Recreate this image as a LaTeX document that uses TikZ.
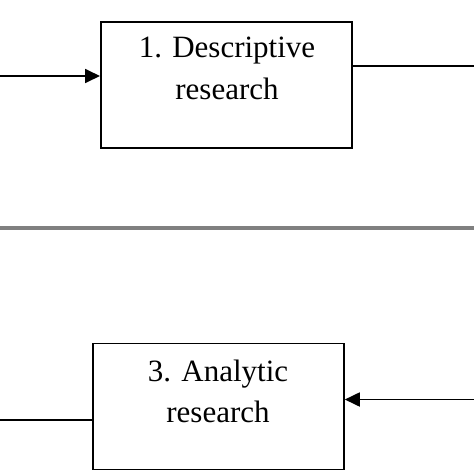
\documentclass[tikz,border=0pt]{standalone}
\usepackage{fontspec}
\setmainfont{Liberation Serif}
\usetikzlibrary{arrows.meta}
\begin{document}
\begin{tikzpicture}[x=1pt,y=1pt,
  box/.style={draw=black,line width=1.8pt,minimum width=251pt,minimum height=126pt,inner sep=0pt,anchor=north west},
  label/.style={font=\fontsize{31}{41.5}\selectfont,align=center,inner sep=0pt,anchor=north},
  conn/.style={draw=black,line width=1.8pt},
  arr/.style={conn,-{Triangle[length=15pt,width=14pt]}},
  divider/.style={draw={rgb,255:red,128;green,128;blue,128},line width=4pt}]
\useasboundingbox (0,0) rectangle (474,-474);
% box 1
\node[box] (b1) at (100,-21) {};
\node[label] (t1) at (227,-37) {1. Descriptive\\research};
\coordinate (in1) at (0,-76);
\coordinate (out1) at (474,-66);
\draw[arr] (in1) -- (in1 -| b1.west);
\draw[conn] (out1 -| b1.east) -- (out1);
% divider
\coordinate (dl) at (0,-228);
\coordinate (dr) at (474,-228);
\draw[divider] (dl) -- (dr);
% box 3
\node[box] (b3) at (92,-342.5) {};
\node[label] (t3) at (218,-359.5) {3. Analytic\\research};
\coordinate (in3) at (474,-399.5);
\coordinate (out3) at (0,-420);
\draw[arr] (in3) -- (in3 -| b3.east);
\draw[conn] (out3) -- (out3 -| b3.west);
\end{tikzpicture}
\end{document}
